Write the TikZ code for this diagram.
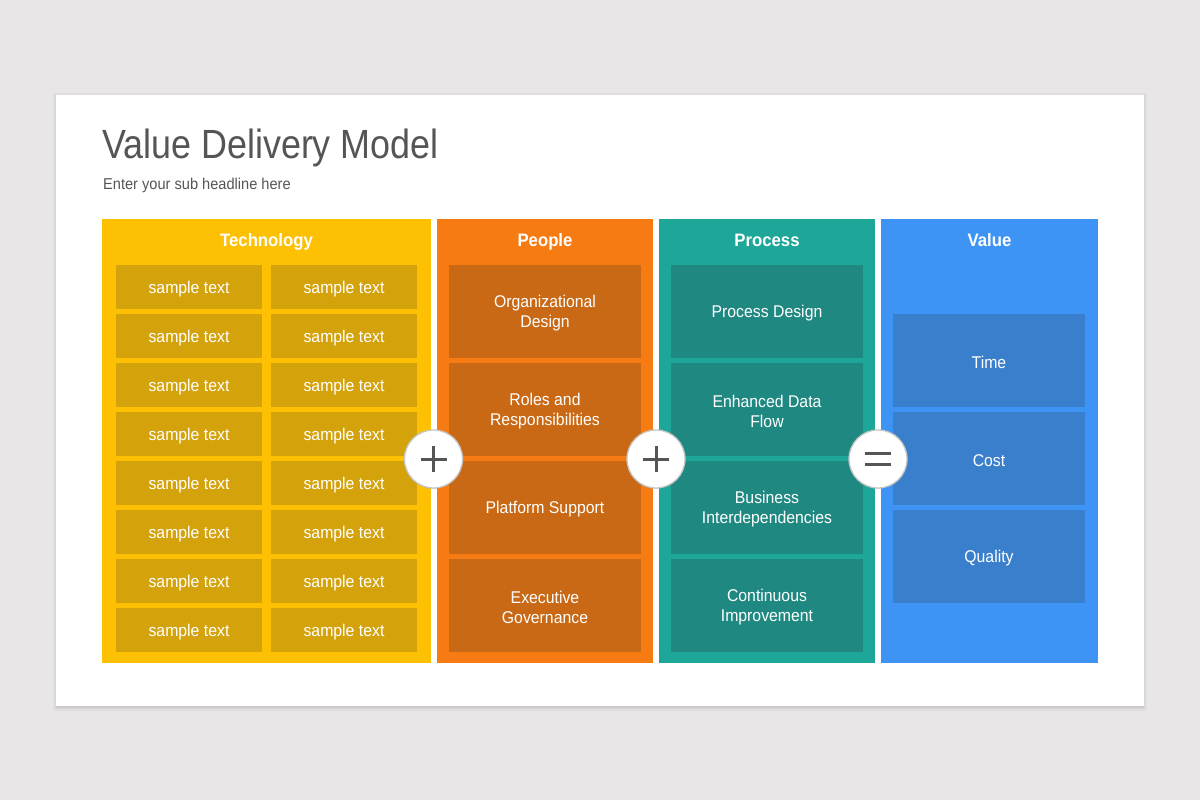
\documentclass[tikz,border=0pt]{standalone}
\usepackage{fontspec}
\setmainfont{Liberation Sans}[FakeStretch=0.93]
\newfontfamily\titlefont{Liberation Sans}[FakeStretch=0.88]
\usetikzlibrary{shadows}
\definecolor{bgc}{HTML}{E8E6E7}
\definecolor{titlec}{HTML}{555555}
\definecolor{ctech}{HTML}{FDC003}
\definecolor{ctechin}{HTML}{D4A20B}
\definecolor{cpeople}{HTML}{F57B12}
\definecolor{cpeoplein}{HTML}{C96915}
\definecolor{cproc}{HTML}{1EA699}
\definecolor{cprocin}{HTML}{1F8981}
\definecolor{cval}{HTML}{3E94F5}
\definecolor{cvalin}{HTML}{3A7FCC}
\definecolor{signc}{HTML}{555555}
\tikzset{
  colbox/.style={anchor=north west, inner sep=0pt, outer sep=0pt},
  hdr/.style={anchor=base, inner sep=0pt, text=white, font=\fontsize{18}{21}\selectfont\bfseries},
  celltxt/.style={inner sep=0pt, yshift=-2pt, text=white, align=center,
    font=\fontsize{17}{20}\selectfont},
  cell/.style={inner sep=0pt, outer sep=0pt},
  smallcell/.style={cell, minimum width=146pt, minimum height=44pt, fill=ctechin},
  bigcell/.style={cell, minimum width=192pt, minimum height=93pt},
  opcircle/.style={circle, fill=white, draw=black!22, line width=1.3pt,
    minimum size=58pt, inner sep=0pt,
    drop shadow={opacity=0.25, shadow xshift=0pt, shadow yshift=-1pt}},
  sign/.style={draw=signc, line width=3pt}
}
\begin{document}
\begin{tikzpicture}[x=1pt,y=-1pt]
\useasboundingbox (0,0) rectangle (1200,800);
\fill[bgc] (0,0) rectangle (1200,800);
% card with soft shadow
\fill[black, opacity=0.03] (53,93) rectangle (1147,711);
\fill[black, opacity=0.04] (55,95) rectangle (1145,709);
\fill[black, opacity=0.05] (56,96) rectangle (1144,707.5);
\node[colbox, fill=white, minimum width=1088pt, minimum height=611pt] (card) at (56,95) {};
% titles
\node[anchor=base west, inner sep=0pt, text=titlec, font=\titlefont\fontsize{40.8}{48}\selectfont] (title) at (102,158) {Value Delivery Model};
\node[anchor=base west, inner sep=0pt, text=titlec, font=\fontsize{15.7}{18}\selectfont] (sub) at (103,189) {Enter your sub headline here};
% columns
\node[colbox, fill=ctech, minimum width=329pt, minimum height=444pt] (tech) at (102,219) {};
\node[colbox, fill=cpeople, minimum width=216pt, minimum height=444pt] (people) at (437,219) {};
\node[colbox, fill=cproc, minimum width=216pt, minimum height=444pt] (proc) at (659,219) {};
\node[colbox, fill=cval, minimum width=217pt, minimum height=444pt] (val) at (881,219) {};
\node[hdr] (techh) at (266.5,246.5) {Technology};
\node[hdr] (peopleh) at (545,246.5) {People};
\node[hdr] (proch) at (767,246.5) {Process};
\node[hdr] (valh) at (989.5,246.5) {Value};
% technology cells
\foreach \r in {0,...,7}{
  \node[smallcell, label={[celltxt]center:sample text}] (tl\r) at (189,{287+49*\r}) {};
  \node[smallcell, label={[celltxt]center:sample text}] (tr\r) at (344,{287+49*\r}) {};
}
% people cells
\node[bigcell, fill=cpeoplein, label={[celltxt]center:{Organizational\\Design}}] (p1) at (545,311.5) {};
\node[bigcell, fill=cpeoplein, label={[celltxt]center:{Roles and\\Responsibilities}}] (p2) at (545,409.5) {};
\node[bigcell, fill=cpeoplein, label={[celltxt]center:{Platform Support}}] (p3) at (545,507.5) {};
\node[bigcell, fill=cpeoplein, label={[celltxt]center:{Executive\\Governance}}] (p4) at (545,605.5) {};
% process cells
\node[bigcell, fill=cprocin, label={[celltxt]center:{Process Design}}] (q1) at (767,311.5) {};
\node[bigcell, fill=cprocin, label={[celltxt]center:{Enhanced Data\\Flow}}] (q2) at (767,409.5) {};
\node[bigcell, fill=cprocin, label={[celltxt]center:{Business\\Interdependencies}}] (q3) at (767,507.5) {};
\node[bigcell, fill=cprocin, label={[celltxt]center:{Continuous\\Improvement}}] (q4) at (767,605.5) {};
% value cells
\node[bigcell, fill=cvalin, label={[celltxt]center:{Time}}] (v1) at (989,360.5) {};
\node[bigcell, fill=cvalin, label={[celltxt]center:{Cost}}] (v2) at (989,458.5) {};
\node[bigcell, fill=cvalin, label={[celltxt]center:{Quality}}] (v3) at (989,556.5) {};
% operator circles
\node[opcircle] (op1) at (433.5,459) {};
\node[opcircle] (op2) at (656,459) {};
\node[opcircle] (op3) at (878,459) {};
\draw[sign] ([xshift=-13pt]op1.center) -- ([xshift=13pt]op1.center);
\draw[sign] ([yshift=-13pt]op1.center) -- ([yshift=13pt]op1.center);
\draw[sign] ([xshift=-13pt]op2.center) -- ([xshift=13pt]op2.center);
\draw[sign] ([yshift=-13pt]op2.center) -- ([yshift=13pt]op2.center);
\draw[sign] ([xshift=-13pt,yshift=-5.5pt]op3.center) -- ([xshift=13pt,yshift=-5.5pt]op3.center);
\draw[sign] ([xshift=-13pt,yshift=5.5pt]op3.center) -- ([xshift=13pt,yshift=5.5pt]op3.center);
\end{tikzpicture}
\end{document}
